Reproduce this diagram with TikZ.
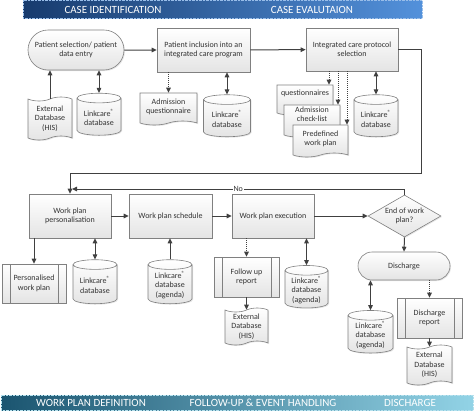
\documentclass[tikz,border=0pt]{standalone}
\usepackage{fontspec}
\setmainfont{Carlito}
\usetikzlibrary{shapes.geometric,shapes.misc,shapes.symbols,arrows.meta,shadows}

\definecolor{linegrey}{HTML}{808080}
\definecolor{arrowgrey}{HTML}{404040}
\definecolor{textgrey}{HTML}{333333}
\definecolor{fillgrey}{HTML}{E4E4E4}
\definecolor{navyleft}{HTML}{173B6E}
\definecolor{navyright}{HTML}{5391DB}
\definecolor{tealleft}{HTML}{1B5570}
\definecolor{tealright}{HTML}{92D3E6}

\tikzset{
  base/.style={draw=linegrey, line width=0.6pt, top color=white, bottom color=fillgrey,
    text=textgrey, align=center, font=\fontsize{8}{9.4}\selectfont, inner sep=1pt,
    drop shadow={opacity=0.2, shadow xshift=1pt, shadow yshift=-1pt}},
  procbox/.style={base, rectangle, minimum width=#1, minimum height=44pt},
  term/.style={base, rounded rectangle, minimum width=#1},
  dbase/.style={base, cylinder, shape border rotate=90, aspect=0.3,
    minimum width=44pt, minimum height=42pt},
  extdb/.style={base, tape, tape bend top=in and out, tape bend bottom=in and out,
    tape bend height=4pt, minimum width=44pt, minimum height=40pt},
  docu/.style={base, tape, tape bend top=none, tape bend bottom=in and out,
    tape bend height=4pt, minimum width=56pt, minimum height=30pt},
  predef/.style={base, rectangle, minimum width=65pt, minimum height=40pt,
    path picture={
      \draw[linegrey] ([xshift=8pt]path picture bounding box.north west) -- ([xshift=8pt]path picture bounding box.south west);
      \draw[linegrey] ([xshift=-8pt]path picture bounding box.north east) -- ([xshift=-8pt]path picture bounding box.south east);}},
  decide/.style={base, diamond, aspect=1.75, minimum width=73pt, minimum height=42pt, inner sep=0pt},
  arr/.style={draw=arrowgrey, line width=1pt, -{Triangle[length=5pt,width=4.5pt]}},
  darr/.style={arr, {Triangle[length=5pt,width=4.5pt]}-{Triangle[length=5pt,width=4.5pt]}},
  dotarr/.style={arr, densely dotted},
  bartext/.style={text=white, font=\fontsize{11}{12}\selectfont},
}

\begin{document}
\begin{tikzpicture}[x=1pt,y=-1pt]
    \useasboundingbox (0,0) rectangle (474,410);

    % Phase banners
    \shade[left color=navyleft, right color=navyright] (23,0) rectangle (422,18);
    \draw[navyright!60!white, densely dotted] (23,0) rectangle (422,18);
    \node (caseid) at (113,9.5) [bartext] {CASE IDENTIFICATION};
    \node (caseev) at (312,9.5) [bartext] {CASE EVALUTAION};
    \shade[left color=tealleft, right color=tealright] (1,395) rectangle (473,410);
    \draw[tealright!70!white, densely dotted] (1,395) rectangle (473,410);
    \node (wpdef) at (91,402.5) [bartext] {WORK PLAN DEFINITION};
    \node (follow) at (263,402.5) [bartext] {FOLLOW-UP \& EVENT HANDLING};
    \node (dischg) at (410,402.5) [bartext] {DISCHARGE};

    % Case identification and evaluation
    \node (select) at (76,50) [term=98pt, minimum height=40pt] {Patient selection/ patient\\data entry};
    \node (include) at (203.5,50) [procbox=93pt] {Patient inclusion into an\\integrated care program};
    \node (protocol) at (352,49.5) [procbox=92pt, minimum height=43pt] {Integrated care protocol\\selection};
    \node (extdbA) at (50,118.5) [extdb, minimum height=43pt] {External\\Database\\(HIS)};
    \node (lcdbA) at (99,117.5) [dbase] {Linkcare\textsuperscript{®}\\database};
    \node (admq) at (168.5,107) [docu, minimum width=57pt, minimum height=32pt] {Admission\\questionnaire};
    \node (lcdbB) at (227,119) [dbase, minimum width=47pt] {Linkcare\textsuperscript{®}\\database};
    \node (quest) at (305,98) [docu] {questionnaires\\[2pt]};
    \node (check) at (312,119) [docu, minimum height=32pt] {Admission\\check-list\\[0pt]};
    \node (predwp) at (320.5,139) [docu, minimum width=55pt, minimum height=32pt] {Predefined\\work plan};
    \node (lcdbC) at (376,119) [dbase] {Linkcare\textsuperscript{®}\\database};

    % Work plan definition and follow-up
    \node (person) at (70,216) [procbox=82pt] {Work plan\\personalisation};
    \node (sched) at (170.5,216) [procbox=83pt] {Work plan schedule};
    \node (exec) at (273,216) [procbox=82pt] {Work plan execution};
    \node (endwp) at (404.5,216) [decide] {End of work\\plan?};
    \node (perswp) at (34,283.5) [predef, minimum width=64pt, minimum height=39pt] {Personalised\\work plan};
    \node (lcdbD) at (95,285) [dbase, minimum height=44pt] {Linkcare\textsuperscript{®}\\database};
    \node (lcdbE) at (170,285) [dbase, minimum height=44pt] {Linkcare\textsuperscript{®}\\database\\(agenda)};
    \node (follrep) at (246.5,277) [predef] {Follow up\\report};
    \node (extdbB) at (246.5,326.5) [extdb, minimum width=43pt, minimum height=37pt] {External\\Database\\(HIS)};
    \node (lcdbF) at (306.5,290) [dbase, minimum width=43pt, minimum height=40pt] {Linkcare\textsuperscript{®}\\database\\(agenda)};

    % Discharge
    \node (disch) at (404,266) [term=94pt, minimum height=28pt] {Discharge};
    \node (lcdbG) at (370.5,335) [dbase, minimum width=45pt, minimum height=40pt] {Linkcare\textsuperscript{®}\\database\\(agenda)};
    \node (disrep) at (429.5,318) [predef] {Discharge\\report};
    \node (extdbC) at (429.5,365) [extdb, minimum width=45pt] {External\\Database\\(HIS)};

    % Main flow
    \coordinate (loopright) at (421,173);
    \coordinate (noend) at (72,189);
    \draw[arr] (select) -- (include);
    \draw[arr] (include) -- (protocol);
    \draw[arr] (protocol.east) -| (loopright) -| (person.north);
    \draw[arr] (person) -- (sched);
    \draw[arr] (sched) -- (exec);
    \draw[arr] (exec) -- (endwp);
    \draw[arr] (endwp.north) |- node[pos=0.75, fill=white, inner sep=1pt, text=textgrey, font=\fontsize{8}{9.4}\selectfont] (nolabel) {No} (noend);
    \draw[arr] (endwp.south) -- (disch.north);

    % Data links
    \draw[arr] (extdbA.north) -- (extdbA.north |- select.south);
    \draw[darr] (lcdbA.north) -- (lcdbA.north |- select.south);
    \draw[dotarr] (admq.north |- include.south) -- (admq.north);
    \draw[darr] (lcdbB.north) -- (lcdbB.north |- include.south);
    \draw[dotarr] ([xshift=-23pt]protocol.south) -- ([xshift=-23pt]protocol.south |- quest.north);
    \draw[dotarr] ([xshift=-14pt]protocol.south) -- ([xshift=-14pt]protocol.south |- check.north);
    \draw[dotarr] ([xshift=-5pt]protocol.south) -- ([xshift=-5pt]protocol.south |- predwp.north);
    \draw[darr] (lcdbC.north) -- (lcdbC.north |- protocol.south);
    \draw[arr] (perswp.north |- person.south) -- (perswp.north);
    \draw[darr] (lcdbD.north) -- (lcdbD.north |- person.south);
    \draw[arr] (lcdbE.north) -- (lcdbE.north |- sched.south);
    \draw[dotarr] (follrep.north |- exec.south) -- (follrep.north);
    \draw[arr] (follrep.south) -- (extdbB.north);
    \draw[darr] (lcdbF.north) -- (lcdbF.north |- exec.south);
    \draw[darr] (lcdbG.north |- disch.south) -- (lcdbG.north);
    \draw[dotarr] (disrep.north |- disch.south) -- (disrep.north);
    \draw[arr] (disrep.south) -- (extdbC.north);
\end{tikzpicture}
\end{document}
